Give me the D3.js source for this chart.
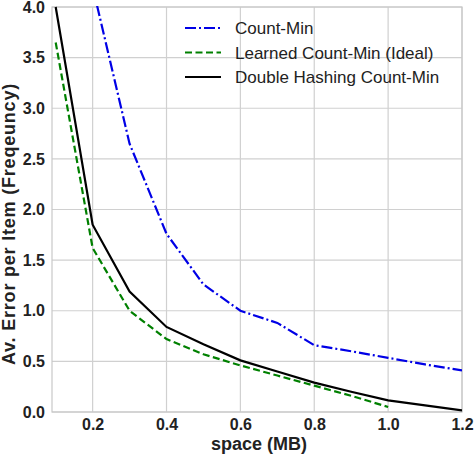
<!DOCTYPE html>
<html>
<head>
<meta charset="utf-8">
<script src="https://cdn.jsdelivr.net/npm/d3@7"></script>
<style>
  body { margin: 0; background: #fff; }
  svg { display: block; font-family: "Liberation Sans", Arial, sans-serif; }
  .tick text { font-weight: bold; font-size: 16px; fill: #222; }
</style>
</head>
<body>
<div id="chart"></div>
<script>
// data
var space = [0.1, 0.2, 0.3, 0.4, 0.5, 0.6, 0.7, 0.8, 0.9, 1.0, 1.1, 1.2];
var countMin = [null, 4.2, 2.65, 1.76, 1.26, 1.0, 0.88, 0.66, 0.60, 0.535, 0.47, 0.41];
var learnedCM = [3.65, 1.62, 1.0, 0.72, 0.57, 0.46, 0.36, 0.26, 0.16, 0.05, null, null];
var doubleHashCM = [4.0, 1.85, 1.19, 0.84, 0.67, 0.51, 0.40, 0.29, 0.20, 0.115, 0.065, 0.015];
var xTicks = [0.2, 0.4, 0.6, 0.8, 1.0, 1.2];
var yTicks = [0, 0.5, 1.0, 1.5, 2.0, 2.5, 3.0, 3.5, 4.0];

var series = [
  {name: "Count-Min", values: countMin, color: "#0000e6", dash: "11,3,2,3"},
  {name: "Learned Count-Min (Ideal)", values: learnedCM, color: "#008000", dash: "7,3.5"},
  {name: "Double Hashing Count-Min", values: doubleHashCM, color: "#000000", dash: null}
];

var width = 474, height = 455;
var margin = {top: 7, right: 12, bottom: 43, left: 52};
var w = width - margin.left - margin.right,
    h = height - margin.top - margin.bottom;

var svg = d3.select("#chart").append("svg")
    .attr("width", width)
    .attr("height", height);

var g = svg.append("g")
    .attr("transform", "translate(" + margin.left + "," + margin.top + ")");

var x = d3.scaleLinear().domain([0.09, 1.2]).range([0, w]);
var y = d3.scaleLinear().domain([0, 4]).range([h, 0]);

// grid
g.append("g").selectAll("line")
  .data(xTicks).join("line")
    .attr("x1", d => x(d)).attr("x2", d => x(d))
    .attr("y1", 0).attr("y2", h)
    .attr("stroke", "#d0d0d0").attr("stroke-width", 1.2);
g.append("g").selectAll("line")
  .data(yTicks).join("line")
    .attr("x1", 0).attr("x2", w)
    .attr("y1", d => y(d)).attr("y2", d => y(d))
    .attr("stroke", "#d0d0d0").attr("stroke-width", 1.2);

// frame
g.append("rect")
  .attr("width", w).attr("height", h)
  .attr("fill", "none").attr("stroke", "#c8c8c8").attr("stroke-width", 1.2);

// axes (labels only, no tick marks)
var xAxis = g.append("g")
  .attr("transform", "translate(0," + h + ")")
  .call(d3.axisBottom(x).tickValues(xTicks).tickFormat(d3.format(".1f")).tickSize(0).tickPadding(7));
xAxis.select(".domain").remove();

var yAxis = g.append("g")
  .call(d3.axisLeft(y).tickValues(yTicks).tickFormat(d3.format(".1f")).tickSize(0).tickPadding(7));
yAxis.select(".domain").remove();

// lines
g.append("clipPath").attr("id", "clip")
  .append("rect").attr("width", w).attr("height", h + 2).attr("y", -1);

var line = d3.line()
  .defined(d => d[1] != null)
  .x(d => x(d[0]))
  .y(d => y(d[1]));

series.forEach(function(s) {
  g.append("path")
    .datum(space.map((v, i) => [v, s.values[i]]))
    .attr("clip-path", "url(#clip)")
    .attr("d", line)
    .attr("fill", "none")
    .attr("stroke", s.color)
    .attr("stroke-width", 2.2)
    .attr("stroke-dasharray", s.dash);
});

// legend
var legend = svg.append("g").attr("transform", "translate(185,28)");
series.forEach(function(s, i) {
  var row = legend.append("g").attr("transform", "translate(0," + (i * 24.5) + ")");
  row.append("line")
    .attr("x1", 0).attr("x2", 36)
    .attr("stroke", s.color).attr("stroke-width", 2.2)
    .attr("stroke-dasharray", s.dash);
  row.append("text")
    .attr("x", 50).attr("y", 0).attr("dy", "0.36em")
    .attr("font-size", 17)
    .attr("fill", "#222")
    .text(s.name);
});

// axis titles
svg.append("text")
  .attr("x", margin.left + w / 2 + 2)
  .attr("y", 450)
  .attr("text-anchor", "middle")
  .attr("font-weight", "bold")
  .attr("font-size", 18)
  .attr("fill", "#222")
  .text("space (MB)");

svg.append("text")
  .attr("transform", "translate(15,224) rotate(-90)")
  .attr("text-anchor", "middle")
  .attr("font-weight", "bold")
  .attr("font-size", 18)
  .attr("letter-spacing", 0.8)
  .attr("fill", "#222")
  .text("Av. Error per Item (Freqeuncy)");
</script>
</body>
</html>
